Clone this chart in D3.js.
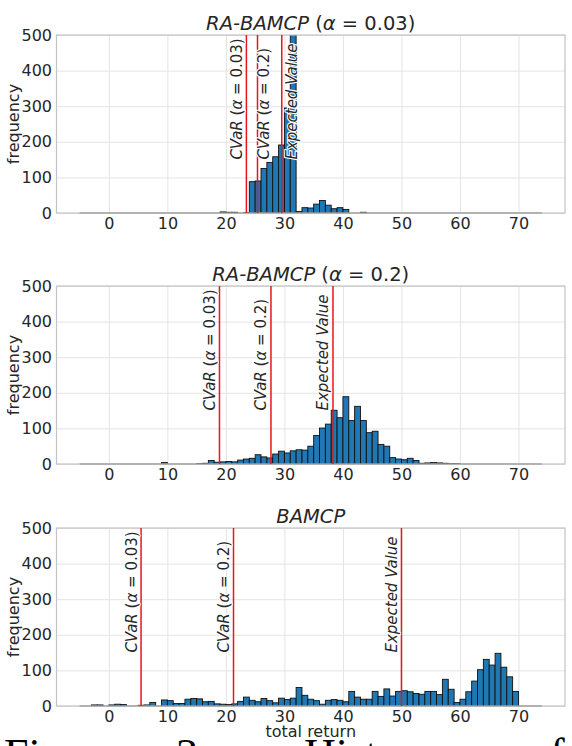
<!DOCTYPE html>
<html>
<head>
<meta charset="utf-8">
<script src="https://cdn.jsdelivr.net/npm/d3@7"></script>
<style>
  body { margin: 0; background: #fff; }
  svg text { font-family: "DejaVu Sans", sans-serif; fill: #262626; white-space: pre; }
</style>
</head>
<body>
<div class="chart"></div>
<script>
// histogram bins are 1 wide, first bin starts at -5, last at 73
var binStarts = d3.range(-5, 74);

// counts per bin, rows of ten bins: -5..4, 5..14, 15..24, ...
var ra003Counts = [
  0, 0, 0, 0, 0, 0, 0, 0, 0, 0,
  0, 0, 0, 0, 0, 0, 0, 0, 0, 0,
  0, 0, 0, 0, 3, 2, 2, 0, 1, 88,
  90, 125, 142, 158, 191, 295, 700, 4, 15, 14,
  25, 35, 22, 12, 15, 10, 0, 0, 2, 0,
  0, 0, 0, 0, 0, 0, 0, 0, 0, 0,
  0, 0, 0, 0, 0, 0, 0, 0, 0, 0,
  0, 0, 0, 0, 0, 0, 0, 0, 0
];
var ra02Counts = [
  0, 0, 0, 0, 0, 0, 0, 0, 0, 0,
  0, 0, 0, 0, 4, 0, 0, 0, 0, 0,
  1, 2, 10, 5, 6, 7, 6, 11, 14, 16,
  26, 20, 17, 28, 36, 31, 37, 40, 39, 50,
  80, 101, 112, 151, 130, 189, 122, 162, 122, 88,
  92, 55, 50, 18, 14, 12, 16, 10, 2, 3,
  4, 3, 2, 1, 1, 0, 0, 0, 0, 0,
  0, 0, 0, 0, 0, 0, 0, 0, 0
];
var bamcpCounts = [
  0, 0, 3, 3, 0, 3, 5, 4, 0, 0,
  2, 3, 10, 0, 17, 15, 7, 7, 19, 21,
  20, 12, 13, 6, 5, 4, 6, 13, 25, 16,
  12, 21, 15, 9, 22, 18, 22, 52, 30, 19,
  15, 5, 16, 18, 16, 12, 41, 25, 19, 19,
  41, 27, 48, 28, 41, 43, 40, 35, 33, 41,
  41, 32, 75, 47, 10, 19, 40, 70, 102, 131,
  115, 148, 109, 82, 41, 0, 0, 0, 0
];

// CVaR(0.03), CVaR(0.2), expected value
var ra003Lines = [23.5, 25.4, 29.55];
var ra02Lines = [18.9, 27.7, 38.3];
var bamcpLines = [5.5, 21.3, 50.0];
var lineAlphas = ["0.03", "0.2"];

var xTicks = [0, 10, 20, 30, 40, 50, 60, 70];
var yTicks = [0, 100, 200, 300, 400, 500];

var svg = d3.select('.chart')
  .append('svg')
  .attr('width', 572)
  .attr('height', 746);

var plotLeft = 56.5, plotRight = 565, plotHeight = 178;
var panelTops = [35, 286, 528];

var x = d3.scaleLinear()
  .domain([-8.95, 77.95])
  .range([plotLeft, plotRight]);

// text with italic / upright runs, like matplotlib mathtext
function richText(sel, parts) {
  parts.forEach(function(p) {
    sel.append('tspan')
      .attr('font-style', p[1] ? 'italic' : 'normal')
      .text(p[0]);
  });
  return sel;
}

function labelParts(i) {
  if (i < 2) return [["CVaR", true], [" (", false], ["\u03b1", true], [" = " + lineAlphas[i] + ")", false]];
  return [["Expected Value", true]];
}

function drawPanel(idx, counts, lines, titleParts, xLabel) {
  var top = panelTops[idx];
  var bottom = top + plotHeight;
  var y = d3.scaleLinear().domain([0, 500]).range([bottom, top]);
  var g = svg.append('g');

  svg.append('clipPath')
    .attr('id', 'clip' + idx)
    .append('rect')
    .attr('x', plotLeft)
    .attr('y', top)
    .attr('width', plotRight - plotLeft)
    .attr('height', plotHeight);

  // x grid + tick labels
  var xAxis = g.append('g')
    .attr('transform', 'translate(0,' + bottom + ')')
    .call(d3.axisBottom(x).tickValues(xTicks).tickSize(-plotHeight).tickPadding(5));
  // y grid + tick labels
  var yAxis = g.append('g')
    .attr('transform', 'translate(' + plotLeft + ',0)')
    .call(d3.axisLeft(y).tickValues(yTicks).tickSize(-(plotRight - plotLeft)).tickPadding(4.5));

  [xAxis, yAxis].forEach(function(a) {
    a.select('.domain').remove();
    a.attr('font-family', null).attr('font-size', null);
    a.selectAll('.tick line').attr('stroke', '#e4e4e4').attr('stroke-width', 1);
    a.selectAll('.tick text').attr('font-size', 16).attr('fill', '#262626');
  });

  // zero-height bins show up as a grey line
  g.append('line')
    .attr('x1', x(binStarts[0]))
    .attr('x2', x(binStarts[binStarts.length - 1] + 1))
    .attr('y1', y(0))
    .attr('y2', y(0))
    .attr('stroke', '#9a9a9a')
    .attr('stroke-width', 2);

  var bins = binStarts.map(function(b, i) {
    return {x0: b, x1: b + 1, n: counts[i]};
  }).filter(function(d) { return d.n > 0; });

  g.append('g')
    .attr('clip-path', 'url(#clip' + idx + ')')
    .selectAll('.bar')
    .data(bins)
    .enter()
    .append('rect')
    .attr('class', 'bar')
    .attr('x', function(d) { return x(d.x0); })
    .attr('width', function(d) { return x(d.x1) - x(d.x0); })
    .attr('y', function(d) { return y(d.n); })
    .attr('height', function(d) { return y(0) - y(d.n); })
    .attr('fill', '#1f77b4')
    .attr('stroke', '#111')
    .attr('stroke-width', 0.9);

  // spines
  g.append('rect')
    .attr('x', plotLeft)
    .attr('y', top)
    .attr('width', plotRight - plotLeft)
    .attr('height', plotHeight)
    .attr('fill', 'none')
    .attr('stroke', '#c4c4c4')
    .attr('stroke-width', 1.2);

  // red marker lines
  g.selectAll('.marker')
    .data(lines)
    .enter()
    .append('line')
    .attr('class', 'marker')
    .attr('x1', function(d) { return x(d); })
    .attr('x2', function(d) { return x(d); })
    .attr('y1', top)
    .attr('y2', bottom)
    .attr('stroke', '#e8151b')
    .attr('stroke-width', 1.5);

  // rotated labels, pushed right when they would overlap
  var prevBase = -1e9;
  lines.forEach(function(v, i) {
    var base = Math.max(x(v) - 4.5, prevBase + 27.5);
    prevBase = base;
    var t = g.append('text')
      .attr('transform', 'translate(' + base + ',' + y(150) + ') rotate(-90)')
      .attr('font-size', 15)
      .attr('stroke', '#fff')
      .attr('stroke-width', 2.2)
      .attr('stroke-linejoin', 'round')
      .attr('paint-order', 'stroke');
    richText(t, labelParts(i));
  });

  // y label
  g.append('text')
    .attr('transform', 'translate(19,' + (top + plotHeight / 2) + ') rotate(-90)')
    .attr('text-anchor', 'middle')
    .attr('font-size', 16)
    .text('frequency');

  // title
  richText(g.append('text')
    .attr('x', (plotLeft + plotRight) / 2)
    .attr('y', top - 5.5)
    .attr('text-anchor', 'middle')
    .attr('font-size', 19.5), titleParts);

  if (xLabel) {
    g.append('text')
      .attr('x', (plotLeft + plotRight) / 2)
      .attr('y', bottom + 31)
      .attr('text-anchor', 'middle')
      .attr('font-size', 16)
      .text(xLabel);
  }
}

drawPanel(0, ra003Counts, ra003Lines,
  [["RA-BAMCP", true], [" (", false], ["\u03b1", true], [" = 0.03)", false]]);
drawPanel(1, ra02Counts, ra02Lines,
  [["RA-BAMCP", true], [" (", false], ["\u03b1", true], [" = 0.2)", false]]);
drawPanel(2, bamcpCounts, bamcpLines, [["BAMCP", true]], 'total return');

// caption of the paper, cut off by the image border
var captionWords = ["Figure", "3:", "Histograms", "of"];
var captionX = [4, 176, 304, 528];
svg.selectAll('.caption')
  .data(captionWords)
  .enter()
  .append('text')
  .attr('class', 'caption')
  .attr('x', function(d, i) { return captionX[i]; })
  .attr('y', 769)
  .style('font-family', '"Liberation Serif", serif')
  .style('fill', '#000')
  .attr('font-size', 44)
  .text(function(d) { return d; });
</script>
</body>
</html>
